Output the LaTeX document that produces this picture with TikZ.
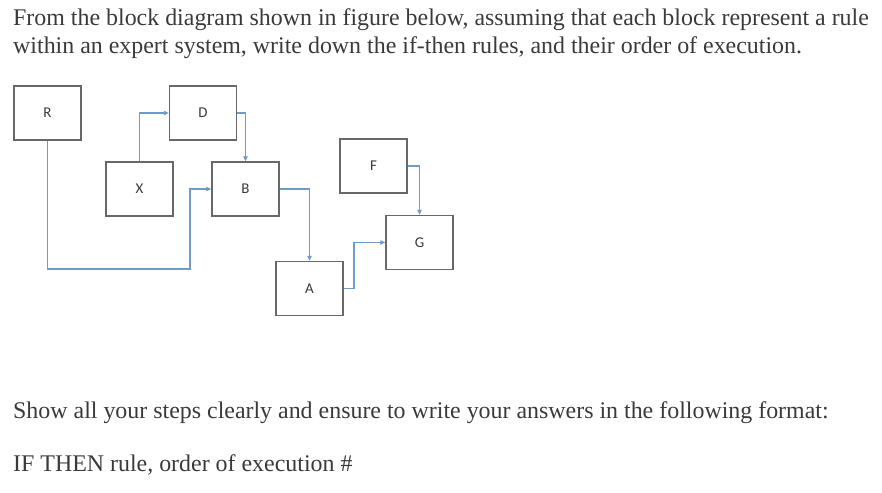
\documentclass[tikz,border=0pt]{standalone}
\usepackage{fontspec}
\setmainfont{Liberation Serif}
\newfontfamily\boxfont{Carlito}
\usetikzlibrary{arrows.meta}
\definecolor{txt}{HTML}{3A3A3A}
\definecolor{boxline}{HTML}{686868}
\definecolor{wire}{HTML}{6E9CC4}
\begin{document}
\begin{tikzpicture}[x=1bp,y=-1bp,
  blk/.style={draw=boxline,line width=1.4bp,minimum width=67bp,minimum height=54bp,inner sep=0pt,font=\boxfont\fontsize{15}{17}\selectfont,text=txt},
  wirestyle/.style={draw=wire,line width=1.1bp,-{Triangle[length=5bp,width=4.5bp]}},
  para/.style={anchor=base west,inner sep=0pt,text=txt,font=\fontsize{24}{28}\selectfont}]
\useasboundingbox (0,0) rectangle (882,493);
\node[para] (t1) at (13,26) {From the block diagram shown in figure below, assuming that each block represent a rule};
\node[para] (t2) at (13,54) {within an expert system, write down the if-then rules, and their order of execution.};
\node[para] (t3) at (13,418) {Show all your steps clearly and ensure to write your answers in the following format:};
\node[para] (t4) at (13,471) {IF THEN rule, order of execution \#};
\node[blk] (R) at (47.5,113) {R};
\node[blk] (D) at (203,113) {D};
\node[blk] (X) at (139.5,189) {X};
\node[blk] (B) at (245.5,189) {B};
\node[blk] (A) at (309.5,288.5) {A};
\node[blk] (F) at (373.5,166) {F};
\node[blk] (G) at (419.5,242.5) {G};
\draw[wirestyle] (R.south) |- (190,269) |- (B.west);
\draw[wirestyle] (X.north) |- (D.west);
\draw[wirestyle] (D.east) -| (B.north);
\draw[wirestyle] (B.east) -| (A.north);
\draw[wirestyle] (F.east) -| (G.north);
\draw[wirestyle] (A.east) -| (354,265) |- (G.west);
\end{tikzpicture}
\end{document}
